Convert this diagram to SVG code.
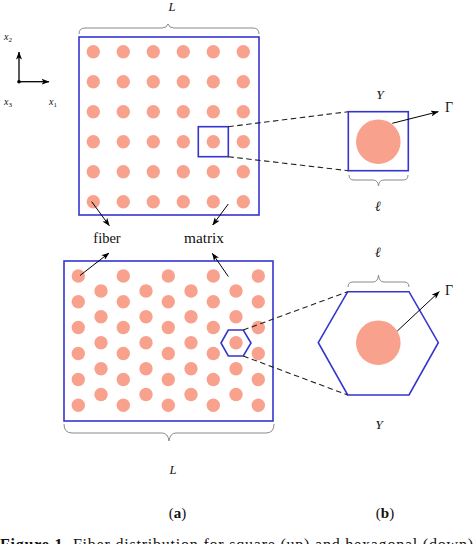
<svg xmlns="http://www.w3.org/2000/svg" width="474" height="544" viewBox="0 0 474 544">
<style>
.fib{fill:#F8A28E}
.bd{fill:none;stroke:#3535D0;stroke-width:1.6}
.br{fill:none;stroke:#8a8a8a;stroke-width:1}
.ar{fill:none;stroke:#000;stroke-width:1}
.ds{fill:none;stroke:#222;stroke-width:1.1;stroke-dasharray:5.5,3.5}
.ax{fill:none;stroke:#000;stroke-width:1.3}
.it{font-family:"Liberation Serif",serif;font-style:italic;fill:#111}
.rm{font-family:"Liberation Serif",serif;fill:#111}
</style>
<defs>
<marker id="ah" markerWidth="8" markerHeight="6" refX="7.5" refY="3" orient="auto" markerUnits="userSpaceOnUse">
<path d="M0,0 L8,3 L0,6 L2,3 z" fill="#000"/>
</marker>
</defs>
<rect width="474" height="544" fill="#fff"/>

<g id="axes">
<line class="ax" x1="19" y1="81.7" x2="19" y2="52" marker-end="url(#ah)"/>
<line class="ax" x1="19" y1="81.7" x2="49" y2="81.7" marker-end="url(#ah)"/>
<circle cx="19" cy="81.7" r="1.8" fill="#000"/>
<text class="it" x="4" y="40" font-size="10">x<tspan font-size="7" dy="2" font-style="normal">2</tspan></text>
<text class="it" x="4" y="105" font-size="10">x<tspan font-size="7" dy="2" font-style="normal">3</tspan></text>
<text class="it" x="49" y="105" font-size="10">x<tspan font-size="7" dy="2" font-style="normal">1</tspan></text>
</g>

<g id="square-domain">
<path class="br" d="M79,34 Q79,28 85,28 L162,28 Q167,28 168,24 Q169,28 174,28 L253,28 Q259,28 259,34"/>
<text class="it" x="172" y="10.5" font-size="12.5" text-anchor="middle">L</text>
<rect class="bd" x="79" y="37" width="180" height="178"/>
<g>
<circle class="fib" cx="93.3" cy="51.7" r="6.7"/><circle class="fib" cx="123.3" cy="51.7" r="6.7"/><circle class="fib" cx="153.3" cy="51.7" r="6.7"/><circle class="fib" cx="183.3" cy="51.7" r="6.7"/><circle class="fib" cx="213.3" cy="51.7" r="6.7"/><circle class="fib" cx="243.3" cy="51.7" r="6.7"/>
<circle class="fib" cx="93.3" cy="81.7" r="6.7"/><circle class="fib" cx="123.3" cy="81.7" r="6.7"/><circle class="fib" cx="153.3" cy="81.7" r="6.7"/><circle class="fib" cx="183.3" cy="81.7" r="6.7"/><circle class="fib" cx="213.3" cy="81.7" r="6.7"/><circle class="fib" cx="243.3" cy="81.7" r="6.7"/>
<circle class="fib" cx="93.3" cy="111.7" r="6.7"/><circle class="fib" cx="123.3" cy="111.7" r="6.7"/><circle class="fib" cx="153.3" cy="111.7" r="6.7"/><circle class="fib" cx="183.3" cy="111.7" r="6.7"/><circle class="fib" cx="213.3" cy="111.7" r="6.7"/><circle class="fib" cx="243.3" cy="111.7" r="6.7"/>
<circle class="fib" cx="93.3" cy="141.7" r="6.7"/><circle class="fib" cx="123.3" cy="141.7" r="6.7"/><circle class="fib" cx="153.3" cy="141.7" r="6.7"/><circle class="fib" cx="183.3" cy="141.7" r="6.7"/><circle class="fib" cx="213.3" cy="141.7" r="6.7"/><circle class="fib" cx="243.3" cy="141.7" r="6.7"/>
<circle class="fib" cx="93.3" cy="171.7" r="6.7"/><circle class="fib" cx="123.3" cy="171.7" r="6.7"/><circle class="fib" cx="153.3" cy="171.7" r="6.7"/><circle class="fib" cx="183.3" cy="171.7" r="6.7"/><circle class="fib" cx="213.3" cy="171.7" r="6.7"/><circle class="fib" cx="243.3" cy="171.7" r="6.7"/>
<circle class="fib" cx="93.3" cy="201.7" r="6.7"/><circle class="fib" cx="123.3" cy="201.7" r="6.7"/><circle class="fib" cx="153.3" cy="201.7" r="6.7"/><circle class="fib" cx="183.3" cy="201.7" r="6.7"/><circle class="fib" cx="213.3" cy="201.7" r="6.7"/><circle class="fib" cx="243.3" cy="201.7" r="6.7"/>
</g>
<rect class="bd" x="198.3" y="126.7" width="30" height="30"/>
</g>

<g id="square-cell">
<circle class="fib" cx="378.3" cy="141.7" r="22.3"/>
<rect class="bd" x="348.3" y="111.7" width="60" height="59"/>
<text class="it" x="380" y="99" font-size="13.5" text-anchor="middle">Y</text>
<path class="br" d="M349,175 Q349,180 354,180 L373,180 Q378,180 378.5,186 Q379,180 384,180 L403,180 Q408,180 408,175"/>
<text class="it" x="378" y="211" font-size="14" text-anchor="middle">ℓ</text>
<text class="rm" x="445" y="112" font-size="14">Γ</text>
</g>

<g id="labels">
<text class="rm" x="107" y="243" font-size="14.5" text-anchor="middle">fiber</text>
<text class="rm" x="204" y="243" font-size="14.5" text-anchor="middle" textLength="40" lengthAdjust="spacingAndGlyphs">matrix</text>
</g>

<g id="hex-domain">
<rect class="bd" x="64" y="261" width="209" height="160"/>
<g>
<circle class="fib" cx="78.3" cy="276" r="6.7"/><circle class="fib" cx="123.3" cy="276" r="6.7"/><circle class="fib" cx="168.3" cy="276" r="6.7"/><circle class="fib" cx="213.3" cy="276" r="6.7"/><circle class="fib" cx="258.3" cy="276" r="6.7"/>
<circle class="fib" cx="78.3" cy="301.8" r="6.7"/><circle class="fib" cx="123.3" cy="301.8" r="6.7"/><circle class="fib" cx="168.3" cy="301.8" r="6.7"/><circle class="fib" cx="213.3" cy="301.8" r="6.7"/><circle class="fib" cx="258.3" cy="301.8" r="6.7"/>
<circle class="fib" cx="78.3" cy="327.5" r="6.7"/><circle class="fib" cx="123.3" cy="327.5" r="6.7"/><circle class="fib" cx="168.3" cy="327.5" r="6.7"/><circle class="fib" cx="213.3" cy="327.5" r="6.7"/><circle class="fib" cx="258.3" cy="327.5" r="6.7"/>
<circle class="fib" cx="78.3" cy="353.5" r="6.7"/><circle class="fib" cx="123.3" cy="353.5" r="6.7"/><circle class="fib" cx="168.3" cy="353.5" r="6.7"/><circle class="fib" cx="213.3" cy="353.5" r="6.7"/><circle class="fib" cx="258.3" cy="353.5" r="6.7"/>
<circle class="fib" cx="78.3" cy="379.5" r="6.7"/><circle class="fib" cx="123.3" cy="379.5" r="6.7"/><circle class="fib" cx="168.3" cy="379.5" r="6.7"/><circle class="fib" cx="213.3" cy="379.5" r="6.7"/><circle class="fib" cx="258.3" cy="379.5" r="6.7"/>
<circle class="fib" cx="78.3" cy="405.3" r="6.7"/><circle class="fib" cx="123.3" cy="405.3" r="6.7"/><circle class="fib" cx="168.3" cy="405.3" r="6.7"/><circle class="fib" cx="213.3" cy="405.3" r="6.7"/><circle class="fib" cx="258.3" cy="405.3" r="6.7"/>
<circle class="fib" cx="101" cy="291" r="6.7"/><circle class="fib" cx="146" cy="291" r="6.7"/><circle class="fib" cx="191" cy="291" r="6.7"/><circle class="fib" cx="236" cy="291" r="6.7"/>
<circle class="fib" cx="101" cy="316.8" r="6.7"/><circle class="fib" cx="146" cy="316.8" r="6.7"/><circle class="fib" cx="191" cy="316.8" r="6.7"/><circle class="fib" cx="236" cy="316.8" r="6.7"/>
<circle class="fib" cx="101" cy="342.7" r="6.7"/><circle class="fib" cx="146" cy="342.7" r="6.7"/><circle class="fib" cx="191" cy="342.7" r="6.7"/><circle class="fib" cx="236" cy="342.7" r="6.7"/>
<circle class="fib" cx="101" cy="368.7" r="6.7"/><circle class="fib" cx="146" cy="368.7" r="6.7"/><circle class="fib" cx="191" cy="368.7" r="6.7"/><circle class="fib" cx="236" cy="368.7" r="6.7"/>
<circle class="fib" cx="101" cy="394.5" r="6.7"/><circle class="fib" cx="146" cy="394.5" r="6.7"/><circle class="fib" cx="191" cy="394.5" r="6.7"/><circle class="fib" cx="236" cy="394.5" r="6.7"/>
</g>
<polygon class="bd" points="221,343 228.3,330 243.3,330 251,343 243.3,356 228.3,356"/>
<path class="br" d="M64,424 Q64,433 72,433 L162,433 Q168,433 169,441 Q170,433 176,433 L266,433 Q274,433 274,424"/>
<text class="it" x="173" y="474" font-size="12.5" text-anchor="middle">L</text>
</g>

<g id="hex-cell">
<circle class="fib" cx="378.3" cy="342.7" r="22.3"/>
<polygon class="bd" points="318.3,342.7 347.7,291.7 409,291.7 438.3,342.7 409,395 347.7,395"/>
<path class="br" d="M348,287 Q348,282 353,282 L373,282 Q378,282 378.5,275 Q379,282 384,282 L404,282 Q409,282 409,287"/>
<text class="it" x="378" y="257" font-size="14" text-anchor="middle">ℓ</text>
<text class="rm" x="445" y="295" font-size="14">Γ</text>
<text class="it" x="379" y="429" font-size="13.5" text-anchor="middle">Y</text>
</g>

<g id="connectors">
<line class="ds" x1="228.3" y1="126.7" x2="348.3" y2="111.7"/>
<line class="ds" x1="228.3" y1="156.7" x2="348.3" y2="170.7"/>
<line class="ds" x1="243.3" y1="330" x2="347.7" y2="291.7"/>
<line class="ds" x1="243.3" y1="356" x2="347.7" y2="395"/>
<line class="ar" x1="392.3" y1="123.3" x2="438.3" y2="111.7" marker-end="url(#ah)"/>
<line class="ar" x1="397.3" y1="331" x2="439.3" y2="291.7" marker-end="url(#ah)"/>
<line class="ar" x1="91.7" y1="201.7" x2="109.3" y2="225.7" marker-end="url(#ah)"/>
<line class="ar" x1="228.3" y1="204" x2="212.7" y2="225" marker-end="url(#ah)"/>
<line class="ar" x1="80" y1="275.5" x2="109" y2="253" marker-end="url(#ah)"/>
<line class="ar" x1="228.3" y1="276.5" x2="212.3" y2="253.3" marker-end="url(#ah)"/>
</g>

<g id="captions">
<text class="rm" x="177.5" y="518" font-size="15" text-anchor="middle">(<tspan font-weight="bold">a</tspan>)</text>
<text class="rm" x="385" y="518" font-size="15" text-anchor="middle">(<tspan font-weight="bold">b</tspan>)</text>
<text class="rm" x="0" y="549.5" font-size="16" textLength="473" lengthAdjust="spacing"><tspan font-weight="bold">Figure 1.</tspan> Fiber distribution for square (up) and hexagonal (down)</text>
</g>
</svg>
